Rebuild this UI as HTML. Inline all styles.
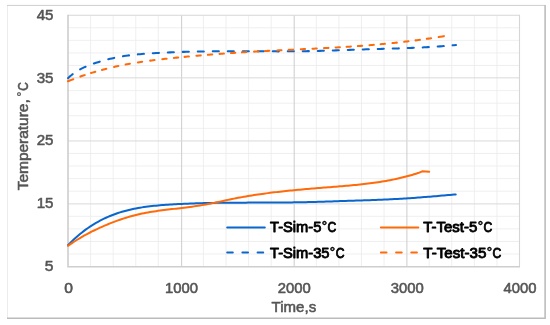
<!DOCTYPE html>
<html><head><meta charset="utf-8"><title>Temperature vs Time</title>
<style>html,body{margin:0;padding:0;background:#fff;}svg{display:block;}text{font-family:"Liberation Sans","DejaVu Sans",sans-serif;font-weight:normal;font-size:14.6px;stroke-width:0.55px;stroke-linejoin:round;}</style>
</head><body>
<svg width="550" height="325" viewBox="0 0 550 325">
<rect x="0" y="0" width="550" height="325" fill="#ffffff"/>
<path d="M7.5,318.2 V5.5" fill="none" stroke="#ececec" stroke-width="1"/>
<path d="M7,5.4 H545" fill="none" stroke="#cdcdcd" stroke-width="1"/>
<path d="M545.1,5 V318.2" fill="none" stroke="#bdbdbd" stroke-width="1.6"/>
<path d="M545.9,318.2 H7" fill="none" stroke="#bcbcbc" stroke-width="1.4"/>
<path d="M90.58,15.4 V266.8 M113.15,15.4 V266.8 M135.72,15.4 V266.8 M158.30,15.4 V266.8 M203.45,15.4 V266.8 M226.03,15.4 V266.8 M248.60,15.4 V266.8 M271.18,15.4 V266.8 M316.32,15.4 V266.8 M338.90,15.4 V266.8 M361.48,15.4 V266.8 M384.05,15.4 V266.8 M429.20,15.4 V266.8 M451.77,15.4 V266.8 M474.35,15.4 V266.8 M496.93,15.4 V266.8 M68.0,27.77 H519.5 M68.0,40.34 H519.5 M68.0,52.91 H519.5 M68.0,65.48 H519.5 M68.0,90.62 H519.5 M68.0,103.19 H519.5 M68.0,115.76 H519.5 M68.0,128.33 H519.5 M68.0,153.47 H519.5 M68.0,166.04 H519.5 M68.0,178.61 H519.5 M68.0,191.18 H519.5 M68.0,216.32 H519.5 M68.0,228.89 H519.5 M68.0,241.46 H519.5 M68.0,254.03 H519.5" fill="none" stroke="#ebebeb" stroke-width="0.8"/>
<path d="M181.65,15.4 V266.8 M294.20,15.4 V266.8 M406.90,15.4 V266.8" fill="none" stroke="#cccccc" stroke-width="1.0"/>
<path d="M68.0,77.85 H519.5 M68.0,140.95 H519.5 M68.0,203.90 H519.5" fill="none" stroke="#d9d9d9" stroke-width="1.0"/>
<path d="M68.0,15.200000000000001 H519.5 V266.8" fill="none" stroke="#d6d6d6" stroke-width="1.1"/>
<path d="M68.0,14.700000000000001 V266.8 H520.0" fill="none" stroke="#cecece" stroke-width="1.6"/>
<path d="M68.0,245.14 L70.0,243.10 L72.0,241.14 L74.0,239.26 L76.0,237.44 L78.0,235.70 L80.0,234.03 L82.0,232.42 L84.0,230.88 L86.0,229.40 L88.0,227.98 L90.0,226.63 L92.0,225.33 L94.0,224.09 L96.0,222.90 L98.0,221.77 L100.0,220.69 L102.0,219.65 L104.0,218.67 L106.0,217.74 L108.0,216.85 L110.0,216.01 L112.0,215.21 L114.0,214.45 L116.0,213.73 L118.0,213.04 L120.0,212.40 L122.0,211.79 L124.0,211.22 L126.0,210.67 L128.0,210.16 L130.0,209.68 L132.0,209.23 L134.0,208.81 L136.0,208.41 L138.0,208.04 L140.0,207.69 L142.0,207.37 L144.0,207.06 L146.0,206.78 L148.0,206.51 L150.0,206.27 L152.0,206.04 L154.0,205.82 L156.0,205.63 L158.0,205.44 L160.0,205.27 L162.0,205.10 L164.0,204.95 L166.0,204.81 L168.0,204.67 L170.0,204.55 L172.0,204.42 L174.0,204.31 L176.0,204.20 L178.0,204.09 L180.0,203.99 L182.0,203.89 L184.0,203.80 L186.0,203.71 L188.0,203.63 L190.0,203.55 L192.0,203.48 L194.0,203.41 L196.0,203.34 L198.0,203.28 L200.0,203.22 L202.0,203.17 L204.0,203.12 L206.0,203.07 L208.0,203.02 L210.0,202.98 L212.0,202.94 L214.0,202.91 L216.0,202.87 L218.0,202.84 L220.0,202.82 L222.0,202.79 L224.0,202.77 L226.0,202.75 L228.0,202.73 L230.0,202.71 L232.0,202.69 L234.0,202.68 L236.0,202.67 L238.0,202.66 L240.0,202.65 L242.0,202.64 L244.0,202.63 L246.0,202.63 L248.0,202.62 L250.0,202.62 L252.0,202.61 L254.0,202.61 L256.0,202.60 L258.0,202.60 L260.0,202.59 L262.0,202.59 L264.0,202.58 L266.0,202.58 L268.0,202.57 L270.0,202.56 L272.0,202.56 L274.0,202.55 L276.0,202.54 L278.0,202.53 L280.0,202.51 L282.0,202.50 L284.0,202.48 L286.0,202.46 L288.0,202.44 L290.0,202.42 L292.0,202.39 L294.0,202.37 L296.0,202.34 L298.0,202.30 L300.0,202.27 L302.0,202.23 L304.0,202.19 L306.0,202.14 L308.0,202.10 L310.0,202.05 L312.0,201.99 L314.0,201.94 L316.0,201.88 L318.0,201.83 L320.0,201.77 L322.0,201.71 L324.0,201.64 L326.0,201.58 L328.0,201.52 L330.0,201.45 L332.0,201.39 L334.0,201.32 L336.0,201.25 L338.0,201.19 L340.0,201.12 L342.0,201.05 L344.0,200.99 L346.0,200.92 L348.0,200.85 L350.0,200.79 L352.0,200.73 L354.0,200.66 L356.0,200.60 L358.0,200.53 L360.0,200.47 L362.0,200.40 L364.0,200.34 L366.0,200.27 L368.0,200.20 L370.0,200.13 L372.0,200.06 L374.0,199.99 L376.0,199.91 L378.0,199.84 L380.0,199.76 L382.0,199.68 L384.0,199.59 L386.0,199.50 L388.0,199.41 L390.0,199.32 L392.0,199.22 L394.0,199.12 L396.0,199.01 L398.0,198.91 L400.0,198.79 L402.0,198.67 L404.0,198.55 L406.0,198.43 L408.0,198.29 L410.0,198.16 L412.0,198.02 L414.0,197.88 L416.0,197.74 L418.0,197.59 L420.0,197.44 L422.0,197.28 L424.0,197.12 L426.0,196.96 L428.0,196.80 L430.0,196.64 L432.0,196.47 L434.0,196.30 L436.0,196.13 L438.0,195.96 L440.0,195.78 L442.0,195.61 L444.0,195.43 L446.0,195.25 L448.0,195.07 L450.0,194.90 L452.0,194.71 L454.0,194.53 L455.7,194.38" fill="none" stroke="#0a66cc" stroke-width="2.0" stroke-linecap="round" stroke-linejoin="round"/>
<path d="M68.0,245.81 L70.0,244.41 L72.0,243.06 L74.0,241.75 L76.0,240.47 L78.0,239.23 L80.0,238.03 L82.0,236.86 L84.0,235.72 L86.0,234.62 L88.0,233.54 L90.0,232.50 L92.0,231.48 L94.0,230.49 L96.0,229.53 L98.0,228.59 L100.0,227.68 L102.0,226.79 L104.0,225.92 L106.0,225.07 L108.0,224.24 L110.0,223.43 L112.0,222.64 L114.0,221.87 L116.0,221.13 L118.0,220.40 L120.0,219.70 L122.0,219.02 L124.0,218.37 L126.0,217.74 L128.0,217.13 L130.0,216.55 L132.0,215.99 L134.0,215.45 L136.0,214.95 L138.0,214.47 L140.0,214.01 L142.0,213.58 L144.0,213.17 L146.0,212.79 L148.0,212.42 L150.0,212.08 L152.0,211.75 L154.0,211.43 L156.0,211.14 L158.0,210.85 L160.0,210.58 L162.0,210.32 L164.0,210.06 L166.0,209.82 L168.0,209.58 L170.0,209.34 L172.0,209.11 L174.0,208.88 L176.0,208.65 L178.0,208.41 L180.0,208.18 L182.0,207.94 L184.0,207.70 L186.0,207.45 L188.0,207.19 L190.0,206.92 L192.0,206.65 L194.0,206.37 L196.0,206.07 L198.0,205.77 L200.0,205.46 L202.0,205.13 L204.0,204.79 L206.0,204.44 L208.0,204.07 L210.0,203.69 L212.0,203.30 L214.0,202.89 L216.0,202.47 L218.0,202.04 L220.0,201.61 L222.0,201.17 L224.0,200.74 L226.0,200.30 L228.0,199.87 L230.0,199.45 L232.0,199.03 L234.0,198.63 L236.0,198.24 L238.0,197.85 L240.0,197.48 L242.0,197.11 L244.0,196.76 L246.0,196.41 L248.0,196.07 L250.0,195.74 L252.0,195.42 L254.0,195.10 L256.0,194.80 L258.0,194.50 L260.0,194.21 L262.0,193.92 L264.0,193.65 L266.0,193.38 L268.0,193.12 L270.0,192.86 L272.0,192.61 L274.0,192.36 L276.0,192.13 L278.0,191.89 L280.0,191.67 L282.0,191.44 L284.0,191.23 L286.0,191.01 L288.0,190.81 L290.0,190.60 L292.0,190.40 L294.0,190.21 L296.0,190.02 L298.0,189.83 L300.0,189.64 L302.0,189.46 L304.0,189.28 L306.0,189.11 L308.0,188.93 L310.0,188.76 L312.0,188.60 L314.0,188.43 L316.0,188.26 L318.0,188.10 L320.0,187.94 L322.0,187.78 L324.0,187.62 L326.0,187.46 L328.0,187.30 L330.0,187.14 L332.0,186.98 L334.0,186.82 L336.0,186.66 L338.0,186.50 L340.0,186.34 L342.0,186.18 L344.0,186.01 L346.0,185.84 L348.0,185.66 L350.0,185.48 L352.0,185.30 L354.0,185.11 L356.0,184.91 L358.0,184.71 L360.0,184.50 L362.0,184.29 L364.0,184.06 L366.0,183.83 L368.0,183.59 L370.0,183.34 L372.0,183.08 L374.0,182.80 L376.0,182.52 L378.0,182.23 L380.0,181.92 L382.0,181.60 L384.0,181.27 L386.0,180.92 L388.0,180.56 L390.0,180.18 L392.0,179.79 L394.0,179.38 L396.0,178.96 L398.0,178.52 L400.0,178.06 L402.0,177.59 L404.0,177.09 L406.0,176.58 L408.0,176.05 L410.0,175.49 L412.0,174.92 L414.0,174.33 L416.0,173.71 L418.0,173.07 L418.7,172.84 L422.2,171.29999999999998 L425.9,171.45 L429.2,171.75" fill="none" stroke="#ff6a0a" stroke-width="2.0" stroke-linecap="round" stroke-linejoin="round"/>
<path d="M68.0,78.16 L70.0,76.33 L72.0,74.67 L74.0,73.17 L76.0,71.80 L78.0,70.56 L80.0,69.42 L82.0,68.38 L84.0,67.41 L86.0,66.52 L88.0,65.69 L90.0,64.91 L92.0,64.18 L94.0,63.49 L96.0,62.82 L98.0,62.18 L100.0,61.57 L102.0,60.98 L104.0,60.41 L106.0,59.87 L108.0,59.36 L110.0,58.86 L112.0,58.40 L114.0,57.95 L116.0,57.53 L118.0,57.14 L120.0,56.77 L122.0,56.42 L124.0,56.09 L126.0,55.78 L128.0,55.50 L130.0,55.24 L132.0,54.99 L134.0,54.76 L136.0,54.55 L138.0,54.35 L140.0,54.17 L142.0,54.00 L144.0,53.84 L146.0,53.69 L148.0,53.55 L150.0,53.42 L152.0,53.29 L154.0,53.17 L156.0,53.06 L158.0,52.95 L160.0,52.84 L162.0,52.74 L164.0,52.64 L166.0,52.55 L168.0,52.46 L170.0,52.37 L172.0,52.29 L174.0,52.21 L176.0,52.13 L178.0,52.06 L180.0,51.99 L182.0,51.92 L184.0,51.86 L186.0,51.80 L188.0,51.74 L190.0,51.69 L192.0,51.64 L194.0,51.59 L196.0,51.55 L198.0,51.51 L200.0,51.47 L202.0,51.43 L204.0,51.40 L206.0,51.37 L208.0,51.34 L210.0,51.32 L212.0,51.29 L214.0,51.27 L216.0,51.26 L218.0,51.24 L220.0,51.23 L222.0,51.21 L224.0,51.21 L226.0,51.20 L228.0,51.19 L230.0,51.19 L232.0,51.19 L234.0,51.19 L236.0,51.19 L238.0,51.19 L240.0,51.20 L242.0,51.20 L244.0,51.21 L246.0,51.22 L248.0,51.23 L250.0,51.24 L252.0,51.25 L254.0,51.26 L256.0,51.27 L258.0,51.28 L260.0,51.29 L262.0,51.30 L264.0,51.31 L266.0,51.31 L268.0,51.32 L270.0,51.33 L272.0,51.34 L274.0,51.34 L276.0,51.35 L278.0,51.35 L280.0,51.35 L282.0,51.35 L284.0,51.35 L286.0,51.34 L288.0,51.34 L290.0,51.33 L292.0,51.32 L294.0,51.31 L296.0,51.29 L298.0,51.27 L300.0,51.25 L302.0,51.22 L304.0,51.20 L306.0,51.16 L308.0,51.13 L310.0,51.09 L312.0,51.05 L314.0,51.01 L316.0,50.96 L318.0,50.91 L320.0,50.86 L322.0,50.80 L324.0,50.75 L326.0,50.69 L328.0,50.63 L330.0,50.56 L332.0,50.50 L334.0,50.43 L336.0,50.37 L338.0,50.30 L340.0,50.23 L342.0,50.16 L344.0,50.09 L346.0,50.02 L348.0,49.95 L350.0,49.88 L352.0,49.82 L354.0,49.75 L356.0,49.68 L358.0,49.61 L360.0,49.54 L362.0,49.48 L364.0,49.41 L366.0,49.35 L368.0,49.29 L370.0,49.22 L372.0,49.16 L374.0,49.11 L376.0,49.05 L378.0,48.99 L380.0,48.93 L382.0,48.88 L384.0,48.82 L386.0,48.76 L388.0,48.70 L390.0,48.64 L392.0,48.58 L394.0,48.52 L396.0,48.46 L398.0,48.40 L400.0,48.33 L402.0,48.27 L404.0,48.20 L406.0,48.13 L408.0,48.05 L410.0,47.97 L412.0,47.89 L414.0,47.81 L416.0,47.73 L418.0,47.64 L420.0,47.54 L422.0,47.45 L424.0,47.35 L426.0,47.24 L428.0,47.13 L430.0,47.02 L432.0,46.90 L434.0,46.77 L436.0,46.64 L438.0,46.51 L440.0,46.37 L442.0,46.22 L444.0,46.07 L446.0,45.91 L448.0,45.74 L450.0,45.57 L452.0,45.39 L454.0,45.20 L456.0,45.01" fill="none" stroke="#0a66cc" stroke-width="2.05" stroke-linecap="round" stroke-linejoin="round" stroke-dasharray="6.1 8.9"/>
<path d="M68.0,81.27 L69.8,80.56 L71.5,79.87 L73.3,79.19 M80.4,76.57 L81.8,76.07 L83.3,75.59 L84.7,75.11 M91.0,73.07 L92.4,72.64 L93.9,72.21 L95.3,71.79 M102.0,69.90 L103.4,69.53 L104.9,69.16 L106.3,68.80 M114.1,66.93 L115.5,66.61 L117.0,66.30 L118.4,66.00 M125.6,64.54 L127.0,64.27 L128.5,64.01 L129.9,63.76 M137.9,62.41 L139.3,62.19 L140.8,61.98 L142.2,61.76 M150.2,60.64 L151.6,60.46 L153.1,60.28 L154.5,60.10 M162.3,59.17 L163.7,59.01 L165.2,58.85 L166.6,58.70 M173.9,57.92 L175.3,57.78 L176.8,57.64 L178.2,57.49 M184.6,56.86 L186.0,56.73 L187.5,56.59 L188.9,56.46 M196.4,55.78 L197.8,55.65 L199.3,55.53 L200.7,55.40 M207.9,54.80 L209.3,54.68 L210.8,54.57 L212.2,54.45 M219.6,53.88 L221.0,53.78 L222.5,53.67 L223.9,53.57 M231.0,53.07 L232.4,52.97 L233.9,52.88 L235.3,52.78 M242.0,52.35 L243.4,52.26 L244.9,52.18 L246.3,52.09 M254.1,51.63 L255.5,51.55 L257.0,51.48 L258.4,51.40 M265.1,51.03 L266.5,50.96 L268.0,50.89 L269.4,50.81 M277.2,50.42 L278.6,50.35 L280.1,50.28 L281.5,50.21 M288.7,49.86 L290.1,49.79 L291.6,49.72 L293.0,49.65 M300.8,49.28 L302.2,49.21 L303.7,49.14 L305.1,49.08 M312.5,48.72 L313.9,48.65 L315.4,48.58 L316.8,48.50 M324.1,48.13 L325.5,48.05 L327.0,47.98 L328.4,47.90 M335.6,47.50 L337.0,47.42 L338.5,47.33 L339.9,47.25 M346.6,46.83 L348.0,46.74 L349.5,46.65 L350.9,46.55 M357.9,46.06 L359.3,45.96 L360.8,45.86 L362.2,45.75 M369.5,45.17 L370.9,45.06 L372.4,44.94 L373.8,44.82 M380.6,44.21 L382.0,44.08 L383.5,43.95 L384.9,43.82 M392.5,43.06 L393.9,42.91 L395.4,42.76 L396.8,42.61 M404.2,41.77 L405.6,41.60 L407.1,41.44 L408.5,41.26 M415.6,40.37 L417.0,40.18 L418.5,39.99 L419.9,39.80 M426.8,38.83 L428.2,38.62 L429.7,38.41 L431.1,38.20 M438.7,37.01 L440.4,36.73 L442.2,36.45 L443.9,36.16" fill="none" stroke="#ff6a0a" stroke-width="2.05" stroke-linecap="round" stroke-linejoin="round"/>
<path d="M227.1,227.5 H264.9" stroke="#0a66cc" stroke-width="1.8" stroke-linecap="round" fill="none"/>
<path d="M227.1,252.5 H264.9" stroke="#0a66cc" stroke-width="1.8" stroke-linecap="round" fill="none" stroke-dasharray="5.8 9.4"/>
<path d="M380.8,227.5 H418.4" stroke="#ff6a0a" stroke-width="1.8" stroke-linecap="round" fill="none"/>
<path d="M380.8,252.5 H418.4" stroke="#ff6a0a" stroke-width="1.8" stroke-linecap="round" fill="none" stroke-dasharray="5.8 9.4"/>
<text fill="#000" stroke="#000" style="font-size:14.9px;stroke-width:0.9px"><tspan x="270.00" y="232.00" textLength="51.3" lengthAdjust="spacingAndGlyphs">T-Sim-5</tspan><tspan x="321.88" y="234.05" style="font-size:17px;stroke-width:0.45px">˚</tspan><tspan x="327.50" y="232.00" textLength="8.8" lengthAdjust="spacingAndGlyphs">C</tspan></text>
<text fill="#000" stroke="#000" style="font-size:14.9px;stroke-width:0.9px"><tspan x="270.00" y="257.50" textLength="59.5" lengthAdjust="spacingAndGlyphs">T-Sim-35</tspan><tspan x="330.08" y="259.55" style="font-size:17px;stroke-width:0.45px">˚</tspan><tspan x="335.70" y="257.50" textLength="8.8" lengthAdjust="spacingAndGlyphs">C</tspan></text>
<text fill="#000" stroke="#000" style="font-size:14.9px;stroke-width:0.9px"><tspan x="423.30" y="232.00" textLength="54.0" lengthAdjust="spacingAndGlyphs">T-Test-5</tspan><tspan x="477.88" y="234.05" style="font-size:17px;stroke-width:0.45px">˚</tspan><tspan x="483.50" y="232.00" textLength="8.8" lengthAdjust="spacingAndGlyphs">C</tspan></text>
<text fill="#000" stroke="#000" style="font-size:14.9px;stroke-width:0.9px"><tspan x="423.30" y="257.50" textLength="63.1" lengthAdjust="spacingAndGlyphs">T-Test-35</tspan><tspan x="486.98" y="259.55" style="font-size:17px;stroke-width:0.45px">˚</tspan><tspan x="492.60" y="257.50" textLength="8.8" lengthAdjust="spacingAndGlyphs">C</tspan></text>
<text x="36.7" y="19.70" text-anchor="start" fill="#555555" stroke="#555555" textLength="16.8" lengthAdjust="spacingAndGlyphs">45</text>
<text x="36.7" y="82.55" text-anchor="start" fill="#555555" stroke="#555555" textLength="16.8" lengthAdjust="spacingAndGlyphs">35</text>
<text x="36.7" y="145.40" text-anchor="start" fill="#555555" stroke="#555555" textLength="16.8" lengthAdjust="spacingAndGlyphs">25</text>
<text x="36.7" y="208.25" text-anchor="start" fill="#555555" stroke="#555555" textLength="16.8" lengthAdjust="spacingAndGlyphs">15</text>
<text x="44.800000000000004" y="271.10" text-anchor="start" fill="#555555" stroke="#555555" textLength="8.7" lengthAdjust="spacingAndGlyphs">5</text>
<text x="64.25" y="292.8" text-anchor="start" fill="#555555" stroke="#555555" textLength="8.7" lengthAdjust="spacingAndGlyphs">0</text>
<text x="164.97" y="292.8" text-anchor="start" fill="#555555" stroke="#555555" textLength="33.0" lengthAdjust="spacingAndGlyphs">1000</text>
<text x="277.85" y="292.8" text-anchor="start" fill="#555555" stroke="#555555" textLength="33.0" lengthAdjust="spacingAndGlyphs">2000</text>
<text x="390.73" y="292.8" text-anchor="start" fill="#555555" stroke="#555555" textLength="33.0" lengthAdjust="spacingAndGlyphs">3000</text>
<text x="503.60" y="292.8" text-anchor="start" fill="#555555" stroke="#555555" textLength="33.0" lengthAdjust="spacingAndGlyphs">4000</text>
<text x="271.6" y="312.05" text-anchor="start" fill="#555555" stroke="#555555" textLength="44.6" lengthAdjust="spacingAndGlyphs">Time,s</text>
<text transform="translate(28.2,190.3) rotate(-90)" fill="#555555" stroke="#555555" style="font-size:14.6px;stroke-width:0.55px"><tspan x="0.00" y="0.00" textLength="95.3" lengthAdjust="spacingAndGlyphs">Temperature, </tspan><tspan x="94.09" y="1.00" style="font-size:15.5px;stroke-width:0.3px">˚</tspan><tspan x="99.50" y="0.00" textLength="8.6" lengthAdjust="spacingAndGlyphs">C</tspan></text>
</svg>
</body></html>
